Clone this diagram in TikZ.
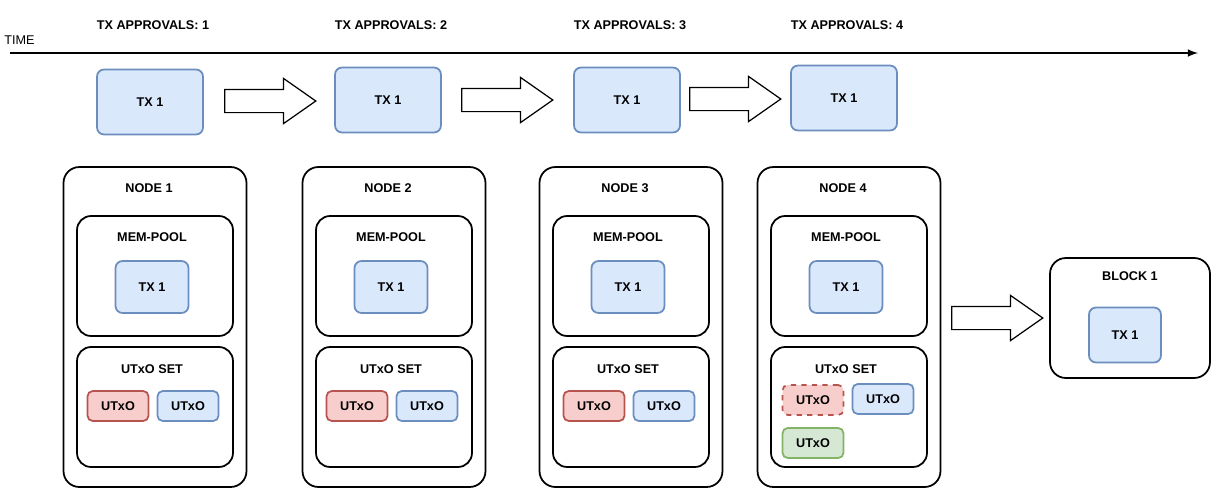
\documentclass[tikz,border=0pt]{standalone}
\usepackage{fontspec}
\setmainfont{Liberation Sans}
\usetikzlibrary{shapes.arrows}
\definecolor{txfill}{HTML}{DAE8FC}
\definecolor{txdraw}{HTML}{6C8EBF}
\definecolor{redfill}{HTML}{F8CECC}
\definecolor{reddraw}{HTML}{B85450}
\definecolor{greenfill}{HTML}{D5E8D4}
\definecolor{greendraw}{HTML}{82B366}
\newcommand{\diagsize}{\fontsize{7.2}{9}\selectfont}
\tikzset{
  txbox/.style={rectangle, rounded corners=4pt, draw=txdraw, fill=txfill, line width=1pt, font=\diagsize\bfseries},
  outerbox/.style={rectangle, rounded corners=9pt, draw=black, line width=1pt, minimum width=3.66cm, minimum height=6.4cm},
  innerbox/.style={rectangle, rounded corners=8pt, draw=black, line width=1pt, minimum width=3.12cm, minimum height=2.4cm},
  utxo/.style={rectangle, rounded corners=3pt, line width=1pt, minimum width=1.22cm, minimum height=0.6cm, font=\diagsize\bfseries},
  bigarrow/.style={single arrow, draw=black, line width=0.7pt, inner xsep=0pt, inner ysep=0.22cm, minimum width=0.88cm, single arrow head extend=0.22cm, minimum height=1.82cm, single arrow tip angle=70},
  lbl/.style={font=\diagsize\bfseries}
}
\begin{document}
\begin{tikzpicture}[x=0.02cm, y=-0.02cm, font=\diagsize]
  \useasboundingbox (0,0) rectangle (1218,495);

  % time line
  \node (time) [anchor=west, inner sep=0pt] at (4,40) {TIME};
  \coordinate (t0) at (10,53);
  \coordinate (t1) at (1198,53);
  \draw [line width=1pt, -latex] (t0) -- (t1);

  % one column per node
  \foreach \i/\cx/\tx/\ty in {1/155/150/102, 2/394/388/100, 3/631/627/100, 4/849/844/98} {
    \node (appr\i) [lbl] at (\tx+3,25) {TX APPROVALS: \i};
    \node (tx\i) [txbox, minimum width=2.12cm, minimum height=1.3cm] at (\tx,\ty) {TX 1};
    \node (node\i) [outerbox] at (\cx,327) {};
    \node (nodelbl\i) [lbl] at (\cx-6,188) {NODE \i};
    \node (pool\i) [innerbox] at (\cx,276) {};
    \node (poollbl\i) [lbl] at (\cx-3,237) {MEM-POOL};
    \node (pooltx\i) [txbox, minimum width=1.46cm, minimum height=1.04cm] at (\cx-3,287) {TX 1};
    \node (set\i) [innerbox] at (\cx,407) {};
    \node (setlbl\i) [lbl] at (\cx-3,369) {UTxO SET};
  }

  % utxos
  \foreach \i/\cx in {1/155, 2/394, 3/631} {
    \node (red\i) [utxo, draw=reddraw, fill=redfill] at (\cx-37,406) {UTxO};
    \node (blue\i) [utxo, draw=txdraw, fill=txfill] at (\cx+33,406) {UTxO};
  }
  \node (red4) [utxo, draw=reddraw, fill=redfill, dashed] at (813,400) {UTxO};
  \node (blue4) [utxo, draw=txdraw, fill=txfill] at (883,399) {UTxO};
  \node (green4) [utxo, draw=greendraw, fill=greenfill] at (813,443) {UTxO};

  % block
  \node (block) [rectangle, rounded corners=9pt, draw=black, line width=1pt, minimum width=3.2cm, minimum height=2.4cm] at (1130,318) {};
  \node (blocklbl) [lbl] at (1130,276) {BLOCK 1};
  \node (blocktx) [txbox, minimum width=1.44cm, minimum height=1.1cm] at (1125,335) {TX 1};

  % hollow arrows
  \node (arr1) [bigarrow] at (262,101) {};
  \node (arr2) [bigarrow] at (499,100) {};
  \node (arr3) [bigarrow] at (727,99) {};
  \node (arr4) [bigarrow] at (989,318) {};
\end{tikzpicture}
\end{document}
